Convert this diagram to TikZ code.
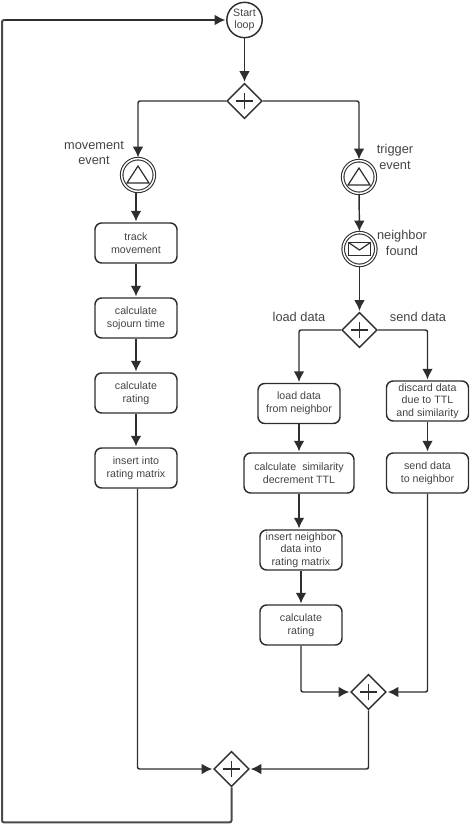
\documentclass[tikz,border=0pt]{standalone}
\usepackage{fontspec}
\setmainfont{Liberation Sans}
\usetikzlibrary{arrows.meta,shapes.geometric,calc}
\definecolor{ink}{HTML}{2E2E2E}
\definecolor{txt}{HTML}{444444}
\definecolor{loopc}{HTML}{4A4A4A}
\tikzset{
  boxn/.style={draw=ink,line width=1.1pt,rounded corners=5pt,minimum width=61.5pt,minimum height=30pt,inner sep=0pt,align=center,text=txt,font=\fontsize{8}{9.5}\selectfont},
  wide/.style={boxn,minimum width=82.5pt},
  gate/.style={diamond,aspect=1,draw=ink,line width=1.1pt,minimum width=26.5pt,minimum height=26.5pt,inner sep=0pt,
    path picture={\draw[ink,line width=.9pt] (path picture bounding box.center) +(-6.3pt,0) -- +(6.3pt,0) +(0,-6.3pt) -- +(0,6.3pt);}},
  evt/.style={circle,draw=ink,line width=.8pt,double=white,double distance=1.1pt,minimum size=24.5pt,inner sep=0pt},
  startn/.style={circle,draw=ink,line width=1.1pt,minimum size=26.5pt,inner sep=0pt,align=center,text=txt,font=\fontsize{8}{9.5}\selectfont},
  lab/.style={align=center,text=txt,font=\fontsize{9.6}{11.6}\selectfont,inner sep=0pt},
  flow/.style={draw=ink,line width=1.1pt,rounded corners=1.5pt,-{Latex[length=8pt,width=8pt]},shorten >=.6pt},
  plain/.style={draw=loopc,line width=1.5pt,rounded corners=1.5pt},
  icon/.style={draw=ink,line width=.9pt}
}
\begin{document}
\begin{tikzpicture}[x=.75pt,y=-.75pt]
\useasboundingbox (0,0) rectangle (474,825);
\node[startn] (s) at (244.5,20) {Start\\loop};
\node[gate] (g1) at (244.5,101) {};
\node[evt] (e1) at (138,175) {};
\node[evt] (e2) at (359,177) {};
\node[evt] (e3) at (359.5,249) {};
\node[boxn] (t1) at (136,243) {track\\movement};
\node[boxn] (t2) at (136,318) {calculate\\sojourn time};
\node[boxn] (t3) at (136,393) {calculate\\rating};
\node[boxn] (t4) at (136,468) {insert into\\rating matrix};
\node[gate] (g2) at (359.5,330) {};
\node[boxn] (l1) at (299,403.5) {load data\\from neighbor};
\node[wide] (l2) at (299,473) {calculate\ \ similarity\\decrement TTL};
\node[boxn] (l3) at (301,550) {insert neighbor\\data into\\rating matrix};
\node[boxn] (l4) at (301,625) {calculate\\rating};
\node[boxn] (r1) at (427.5,401) {discard data\\due to TTL\\and similarity};
\node[boxn] (r2) at (427.5,473) {send data\\to neighbor};
\node[gate] (g3) at (368.5,692) {};
\node[gate] (g4) at (231.5,769) {};
\node[lab] (n1) at (94,153) {movement\\event};
\node[lab] (n2) at (395,157) {trigger\\event};
\node[lab] (n3) at (402,243) {neighbor\\found};
\node[lab] (n4) at (299,317) {load data};
\node[lab] (n5) at (418,317) {send data};
% icons
\draw[icon] ($(e1)+(0,-9)$) -- ($(e1)+(11,8)$) -- ($(e1)+(-11,8)$) -- cycle;
\draw[icon] ($(e2)+(0,-9)$) -- ($(e2)+(11,8)$) -- ($(e2)+(-11,8)$) -- cycle;
\draw[icon] ($(e3)+(-11,-6.5)$) rectangle ($(e3)+(11,6.5)$);
\draw[icon] ($(e3)+(-11,-6.5)$) -- ($(e3)+(0,1)$) -- ($(e3)+(11,-6.5)$);
% connectors
\coordinate (cbl) at ($(g4.south)+(0,35)$);
\coordinate (cl) at (2,822);
\draw[flow] (s) -- (g1);
\draw[flow] (g1.west) -| (e1.north);
\draw[flow] (g1.east) -| (e2.north);
\draw[flow] (t1.north |- e1.south) -- (t1.north);
\draw[flow] (e2) -- (e3);
\draw[flow] (t1) -- (t2);
\draw[flow] (t2) -- (t3);
\draw[flow] (t3) -- (t4);
\draw[flow] (e3) -- (g2);
\draw[flow] (g2.west) -| (l1.north);
\draw[flow] (g2.east) -| (r1.north);
\draw[flow] (l1) -- (l2);
\draw[flow] (l2.south) -- (l2.south |- l3.north);
\draw[flow] (l3) -- (l4);
\draw[flow] (r1) -- (r2);
\draw[flow] (l4.south) |- (g3.west);
\draw[flow] (r2.south) |- (g3.east);
\draw[flow] (g3.south) |- (g4.east);
\draw[flow] ($(t4.south)+(1.5,0)$) |- (g4.west);
\draw[plain] (g4.south) -- (cbl) -- (cbl -| cl) -- (cl |- s) -- ($(cl |- s)+(3,0)$);
\draw[flow] ($(cl |- s)+(3,0)$) -- (s.west);
\end{tikzpicture}
\end{document}
